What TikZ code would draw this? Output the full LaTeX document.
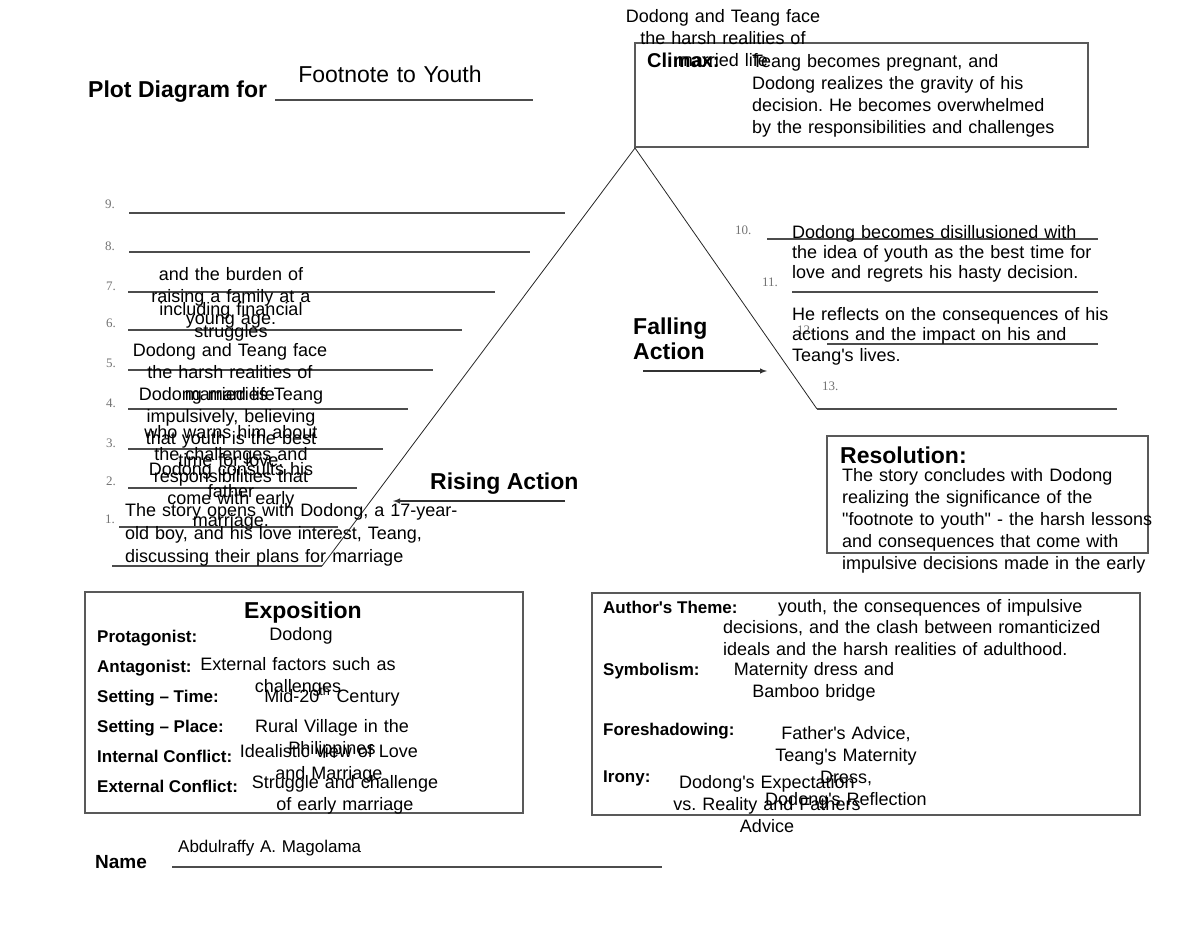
\documentclass[tikz,border=0pt]{standalone}
\usepackage{fontspec}
\setmainfont{Liberation Sans}[Ligatures=TeXOff]
\newfontfamily\numfont{Liberation Serif}
\usepackage{xcolor}
\usepackage{tikz}
\frenchspacing

\begin{document}
\begin{tikzpicture}[x=1pt, y=-1pt,
  txt/.style={inner sep=0pt, font=\fontsize{18}{22}\selectfont, text width=300pt, align=center, anchor=base},
  txtl/.style={txt, text width=420pt, align=left, anchor=base west},
  hd/.style={inner sep=0pt, font=\fontsize{23}{25}\selectfont\bfseries, anchor=base west},
  lbl/.style={inner sep=0pt, font=\fontsize{17}{20}\selectfont\bfseries, anchor=base west},
  num/.style={inner sep=0pt, font=\fontsize{13}{15}\selectfont\numfont, text=black!55, anchor=base west},
  rule/.style={black!70, line width=1.5pt},
  slope/.style={black!85, line width=0.8pt},
  box/.style={draw=black!65, line width=1.5pt},
  arrow/.style={black!80, line width=1.4pt, -latex}]
\useasboundingbox (0,0) rectangle (1200,927);

% Title
\node[hd] (title) at (88,97) {Plot Diagram for};
\draw[rule] (275,100) -- (533,100);
\node[txt, font=\fontsize{23}{26}\selectfont] (story) at (390,82) {Footnote to Youth};

% Climax box
\draw[box] (635,43) rectangle (1088,147);
\node[hd, font=\fontsize{20}{24}\selectfont\bfseries] (climax) at (647,67) {Climax:};
\node[txt] (pre) at (723,22) {Dodong and Teang face\\the harsh realities of\\married life};
\node[txtl] (peak) at (752,67) {Teang becomes pregnant, and\\Dodong realizes the gravity of his\\decision. He becomes overwhelmed\\by the responsibilities and challenges};

% Plot line
\coordinate (start) at (112,566);
\coordinate (rise) at (322,566);
\coordinate (apex) at (635,148);
\coordinate (fall) at (817,409);
\coordinate (finish) at (1117,409);
\draw[rule] (start) -- (rise);
\draw[slope] (rise) -- (apex) -- (fall);
\draw[rule] (fall) -- (finish);

% Rising action lines
\node[num] (n9) at (105,208) {9.};
\node[num] (n8) at (105,250) {8.};
\node[num] (n7) at (106,290) {7.};
\node[num] (n6) at (106,327) {6.};
\node[num] (n5) at (106,367) {5.};
\node[num] (n4) at (106,407) {4.};
\node[num] (n3) at (106,447) {3.};
\node[num] (n2) at (106,485) {2.};
\node[num] (n1) at (105,523) {1.};
\draw[rule] (129,213) -- (565,213);
\draw[rule] (129,252) -- (530,252);
\draw[rule] (128,292) -- (495,292);
\draw[rule] (128,330) -- (462,330);
\draw[rule] (128,370) -- (433,370);
\draw[rule] (128,409) -- (408,409);
\draw[rule] (128,449) -- (383,449);
\draw[rule] (128,488) -- (357,488);
\draw[rule] (119,527) -- (338,527);

% Rising action events
\node[txt] (burden) at (231,280) {and the burden of\\raising a family at a\\young age.};
\node[txt] (struggle) at (231,315) {including financial\\struggles};
\node[txt] (harsh) at (230,356) {Dodong and Teang face\\the harsh realities of\\married life};
\node[txt] (marries) at (231,400) {Dodong marries Teang\\impulsively, believing\\that youth is the best\\time for love.};
\node[txt] (warns) at (231,438) {who warns him about\\the challenges and\\responsibilities that\\come with early\\marriage.};
\node[txt] (consults) at (231,475) {Dodong consults his\\father};
\node[txtl, font=\fontsize{18}{23}\selectfont] (opens) at (125,516) {The story opens with Dodong, a 17-year-\\old boy, and his love interest, Teang,\\discussing their plans for marriage};

% Rising action label
\node[hd] (rising) at (430,489) {Rising Action};
\coordinate (ra) at (565,501);
\coordinate (rb) at (393,501);
\draw[arrow] (ra) -- (rb);

% Falling action lines
\node[num] (n10) at (735,234) {10.};
\node[num] (n11) at (762,286) {11.};
\node[num] (n12) at (797,334) {12.};
\node[num] (n13) at (822,390) {13.};
\draw[rule] (767,239) -- (1098,239);
\draw[rule] (792,292) -- (1098,292);
\draw[rule] (827,344) -- (1098,344);

% Falling action events
\node[txtl, font=\fontsize{18}{20}\selectfont] (disillusion) at (792,238) {Dodong becomes disillusioned with\\the idea of youth as the best time for\\love and regrets his hasty decision.};
\node[txtl, font=\fontsize{18}{20.5}\selectfont] (reflect) at (792,320) {He reflects on the consequences of his\\actions and the impact on his and\\Teang's lives.};

% Falling action label
\node[hd, text width=100pt, align=left] (falling) at (633,334) {Falling\\Action};
\coordinate (fa) at (643,371);
\coordinate (fb) at (767,371);
\draw[arrow] (fa) -- (fb);

% Resolution box
\draw[box] (827,436) rectangle (1148,553);
\node[hd] (resol) at (840,463) {Resolution:};
\node[txtl] (ending) at (842,481) {The story concludes with Dodong\\realizing the significance of the\\"footnote to youth" - the harsh lessons\\and consequences that come with\\impulsive decisions made in the early};

% Exposition box
\draw[box] (85,592) rectangle (523,813);
\node[hd, anchor=base] (expo) at (303,618) {Exposition};
\node[lbl] (prot) at (97,642) {Protagonist:};
\node[lbl] (anta) at (97,672) {Antagonist:};
\node[lbl] (stime) at (97,702) {Setting – Time:};
\node[lbl] (splace) at (97,732) {Setting – Place:};
\node[lbl] (inner) at (97,762) {Internal Conflict:};
\node[lbl] (outer) at (97,792) {External Conflict:};
\node[txt] (hero) at (301,640) {Dodong};
\node[txt] (foe) at (298,670) {External factors such as\\challenges};
\node[txt] (era) at (332,702) {Mid-20\textsuperscript{th} Century};
\node[txt] (place) at (332,732) {Rural Village in the\\Philippines};
\node[txt] (ideal) at (329,757) {Idealistic view of Love\\and Marriage};
\node[txt] (early) at (345,788) {Struggle and challenge\\of early marriage};

% Theme box
\draw[box] (592,593) rectangle (1140,815);
\node[lbl] (theme) at (603,613) {Author's Theme:};
\node[txtl, font=\fontsize{18}{21.5}\selectfont] (message) at (723,612) {\hspace*{55pt}youth, the consequences of impulsive\\decisions, and the clash between romanticized\\ideals and the harsh realities of adulthood.};
\node[lbl] (symbol) at (603,675) {Symbolism:};
\node[txt] (symbols) at (814,675) {Maternity dress and\\Bamboo bridge};
\node[lbl] (fore) at (603,735) {Foreshadowing:};
\node[txt] (hints) at (846,739) {Father's Advice,\\Teang's Maternity\\Dress,\\Dodong's Reflection};
\node[lbl] (irony) at (603,782) {Irony:};
\node[txt] (twist) at (767,788) {Dodong's Expectation\\vs. Reality and Fathers\\Advice};

% Name
\node[hd, font=\fontsize{19}{22}\selectfont\bfseries] (name) at (95,868) {Name};
\draw[rule] (172,867) -- (662,867);
\node[txtl, font=\fontsize{17}{20}\selectfont] (student) at (178,852) {Abdulraffy A. Magolama};
\end{tikzpicture}
\end{document}
